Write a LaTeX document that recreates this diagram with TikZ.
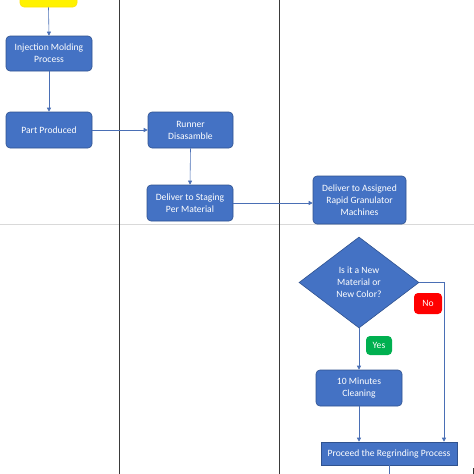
\documentclass[tikz,border=0pt]{standalone}
\usepackage{fontspec}
\setmainfont{Carlito}
\usetikzlibrary{shapes.geometric,arrows.meta}
\definecolor{boxfill}{HTML}{4472C4}
\definecolor{boxline}{HTML}{2F528F}
\definecolor{conn}{HTML}{4A6FB5}
\definecolor{lane}{HTML}{3A3A3A}
\definecolor{sep}{HTML}{D9D9D9}
\definecolor{yesgreen}{HTML}{00B050}
\begin{document}
\begin{tikzpicture}[x=1pt,y=-1pt,
  every node/.style={font=\fontsize{9.6}{12}\selectfont, text=white, align=center, inner sep=0pt},
  proc/.style={draw=boxline, fill=boxfill, line width=0.6pt, rounded corners=4pt},
  plainbox/.style={draw=boxline, fill=boxfill, line width=0.6pt},
  decide/.style={shape=diamond, draw=boxline, fill=boxfill, line width=0.6pt, aspect=1.32},
  tag/.style={rounded corners=4pt},
  flow/.style={draw=conn, line width=0.6pt, -{Triangle[length=4pt,width=4pt]}},
  flowplain/.style={draw=conn, line width=0.6pt},
  laneline/.style={draw=lane, line width=0.8pt},
  sepline/.style={draw=sep, line width=0.6pt}
]
\useasboundingbox (0,0) rectangle (474,474);
% lanes
\coordinate (l1t) at (119,0); \coordinate (l1b) at (119,474);
\coordinate (l2t) at (279,0); \coordinate (l2b) at (279,474);
\coordinate (sl) at (0,224); \coordinate (sr) at (474,224);
\coordinate (m1) at (473,468); \coordinate (m2) at (473,474);
\draw[sepline] (sl) -- (sr);
\draw[laneline] (l1t) -- (l1b);
\draw[laneline] (l2t) -- (l2b);
\draw[laneline] (m1) -- (m2);
% nodes
\node[proc, fill=yellow, draw=yellow!85!orange, minimum width=57pt, minimum height=17pt] (start) at (48.5,-1.5) {};
\node[proc, minimum width=86pt, minimum height=35pt] (inj) at (49,53.5) {Injection Molding\\Process};
\node[proc, minimum width=86pt, minimum height=36pt] (part) at (49,130) {Part Produced};
\node[proc, minimum width=85pt, minimum height=36pt] (run) at (190.5,130) {Runner\\Disasamble};
\node[proc, minimum width=86pt, minimum height=36pt] (stag) at (190,203) {Deliver to Staging\\Per Material};
\node[proc, minimum width=93pt, minimum height=48pt] (assg) at (359.5,200) {Deliver to Assigned\\Rapid Granulator\\Machines};
\node[decide, minimum width=120pt, minimum height=91pt] (dia) at (359,282.5) {Is it a New\\Material or\\New Color?};
\node[tag, fill=red, minimum width=28pt, minimum height=21pt] (no) at (428,303.5) {No};
\node[tag, fill=yesgreen, minimum width=26pt, minimum height=19pt] (yes) at (379,345.5) {Yes};
\node[proc, minimum width=86pt, minimum height=36pt] (clean) at (359,388) {10 Minutes\\Cleaning};
\node[plainbox, minimum width=136pt, minimum height=23pt] (proc) at (389,453.5) {Proceed the Regrinding Process};
\coordinate (nocorner) at (444,282.5);
\coordinate (outend) at (389,474);
% connectors
\draw[flow] (start.south) -- (inj.north);
\draw[flow] (inj.south) -- (part.north);
\draw[flow] (part.east) -- (run.west);
\draw[flow] (run.south) -- (stag.north);
\draw[flow] (stag.east) -- (stag.east -| assg.west);
\draw[flow] (dia.south) -- (clean.north);
\draw[flow] (clean.south) -- (clean.south |- proc.north);
\draw[flow] (dia.east) -- (nocorner) -- (nocorner |- proc.north);
\draw[flowplain] (proc.south) -- (outend);
\end{tikzpicture}
\end{document}
